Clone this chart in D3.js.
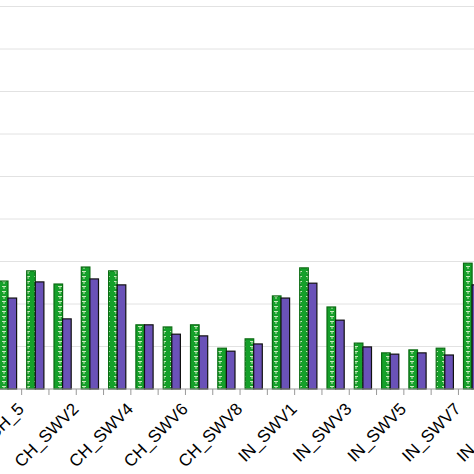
<!DOCTYPE html><html><head><meta charset="utf-8"><script src="https://cdn.jsdelivr.net/npm/d3@7"></script>
<style>body{margin:0;background:#fff}</style></head><body><svg id="c" width="474" height="474"></svg>
<script>
const categories=["CH_5","CH_SWV1","CH_SWV2","CH_SWV3","CH_SWV4","CH_SWV5","CH_SWV6","CH_SWV7","CH_SWV8","CH_SWV9","IN_SWV1","IN_SWV2","IN_SWV3","IN_SWV4","IN_SWV5","IN_SWV6","IN_SWV7","IN_SWV8","IN_SWV9"];
const greenValues=[2.54,2.78,2.47,2.87,2.78,1.51,1.46,1.51,0.96,1.18,2.19,2.85,1.93,1.08,0.85,0.92,0.96,2.96,2.5];
const purpleValues=[2.14,2.52,1.65,2.59,2.45,1.51,1.29,1.25,0.89,1.06,2.14,2.49,1.62,0.99,0.82,0.85,0.80,2.45,2.2];
const yTicks=[0,1,2,3,4,5,6,7,8,9];
const labelEvery=2;

const svg=d3.select("#c");
const step=27.3, start=8-step/2;
const x=d3.scaleBand().domain(categories).range([start,start+step*categories.length]).paddingInner(0.37).paddingOuter(0.185);
const y=d3.scaleLinear().domain([0,9]).range([389,6.5]);
const x1=d3.scaleBand().domain(["g","p"]).range([0,x.bandwidth()]);

const defs=svg.append("defs");
const pat=defs.append("pattern").attr("id","gp").attr("patternUnits","userSpaceOnUse").attr("width",8).attr("height",5);
pat.append("rect").attr("width",8).attr("height",5).attr("fill","#15a02a");
pat.append("path").attr("d","M2,1.5H6M4,1.5V4").attr("stroke","#d8f0c8").attr("stroke-width",0.9).attr("fill","none");

svg.append("g").selectAll("line").data(yTicks.slice(1)).join("line")
 .attr("x1",0).attr("x2",474).attr("y1",d=>y(d)).attr("y2",d=>y(d)).attr("stroke","#e2e2e2").attr("stroke-width",1);

const g=svg.append("g");
categories.forEach((c,i)=>{
  const bx=x(c);
  g.append("rect").attr("x",bx+x1("g")).attr("y",y(greenValues[i])).attr("width",x1.bandwidth()).attr("height",y(0)-y(greenValues[i]))
   .attr("fill","url(#gp)").attr("stroke","#0b6a12").attr("stroke-width",1.2);
  g.append("rect").attr("x",bx+x1("p")).attr("y",y(purpleValues[i])).attr("width",x1.bandwidth()).attr("height",y(0)-y(purpleValues[i]))
   .attr("fill","#6a52b8").attr("stroke","#111").attr("stroke-width",1.2);
});

const ax=svg.append("g").attr("transform","translate(0,389)");
ax.append("line").attr("x1",0).attr("x2",474).attr("stroke","#999");
const bounds=d3.range(categories.length+1).map(i=>start+i*step);
ax.selectAll("line.t").data(bounds).join("line").attr("class","t").attr("x1",d=>d).attr("x2",d=>d).attr("y1",0).attr("y2",6).attr("stroke","#999");
ax.selectAll("text").data(categories.filter((c,i)=>i%labelEvery===0)).join("text")
 .attr("transform",d=>`translate(${x(d)+x.bandwidth()/2+8},${12}) rotate(-45)`)
 .attr("text-anchor","end").attr("dy","0.75em").attr("font-family","Liberation Sans, Arial, sans-serif").attr("font-size",17).attr("fill","#000").text(d=>d);
</script></body></html>
